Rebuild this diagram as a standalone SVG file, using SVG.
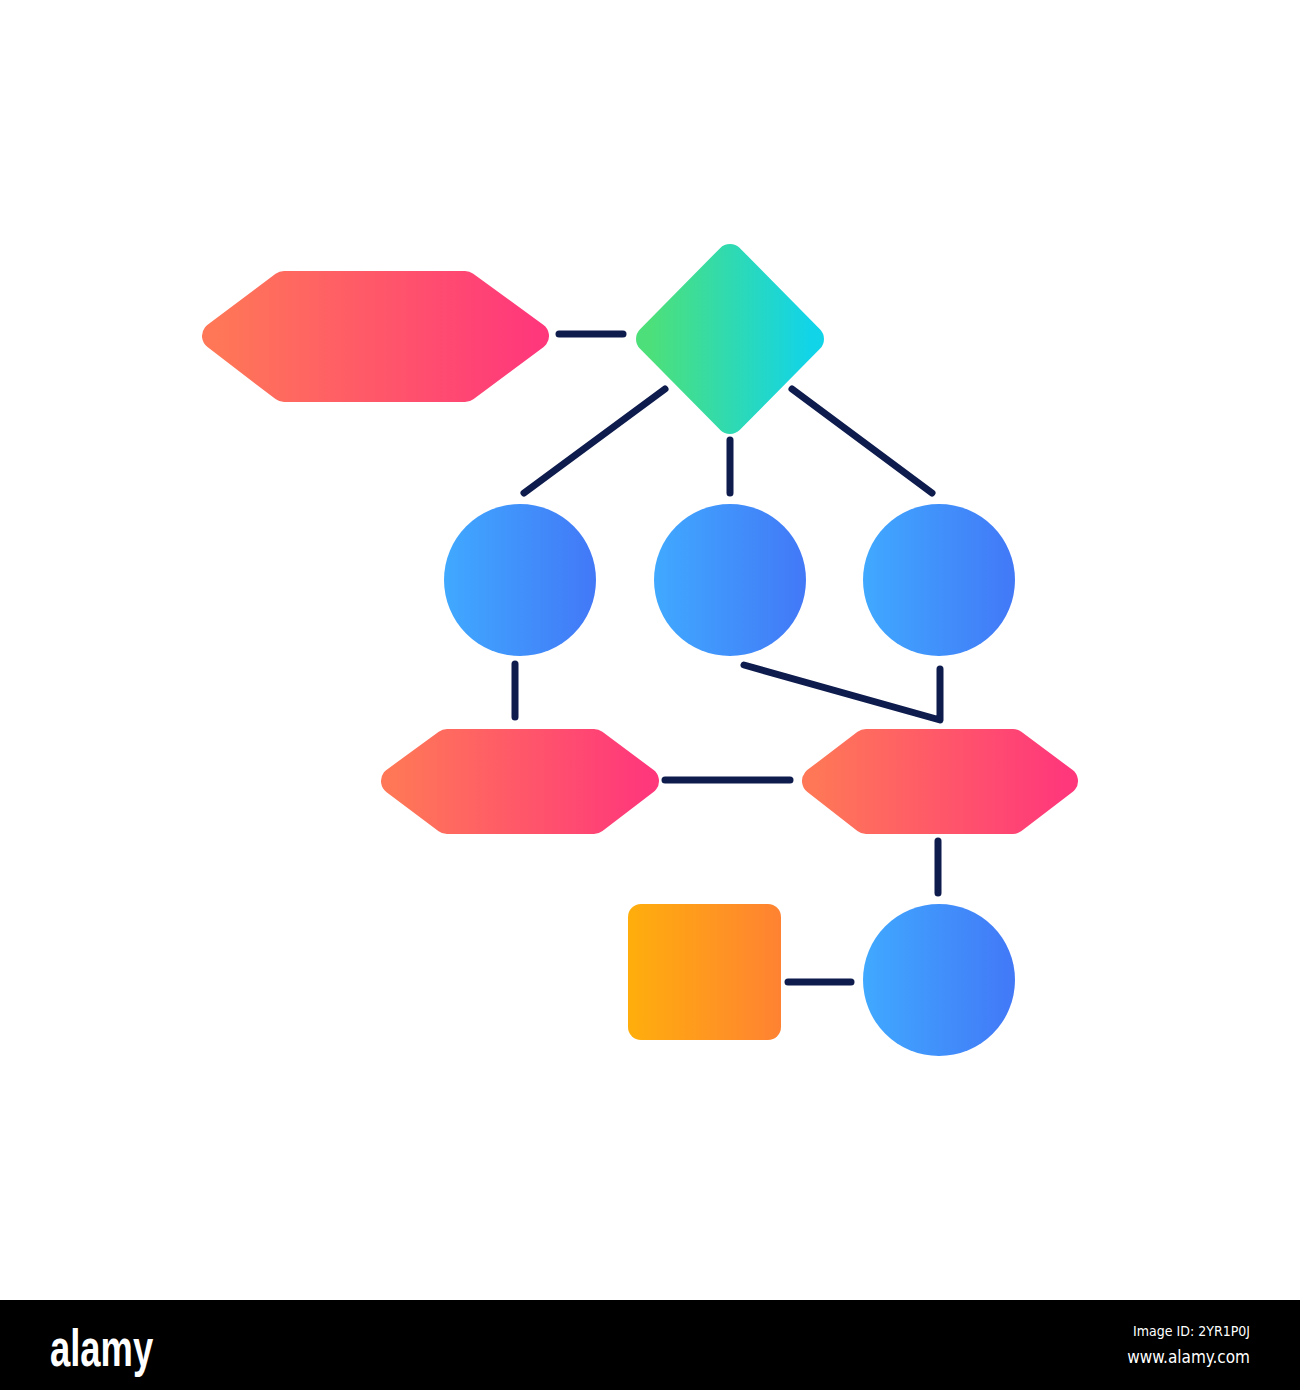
<svg xmlns="http://www.w3.org/2000/svg" width="1300" height="1390" viewBox="0 0 1300 1390">
<defs>
<linearGradient id="gHex" x1="0" y1="0" x2="1" y2="0"><stop offset="0" stop-color="#ff7757"/><stop offset="1" stop-color="#ff387b"/></linearGradient>
<linearGradient id="gDia" x1="0" y1="0" x2="1" y2="0"><stop offset="0" stop-color="#4de07a"/><stop offset="1" stop-color="#12d4e8"/></linearGradient>
<linearGradient id="gCir" x1="0" y1="0" x2="1" y2="0"><stop offset="0" stop-color="#40a9ff"/><stop offset="1" stop-color="#4278f7"/></linearGradient>
<linearGradient id="gSq" x1="0" y1="0" x2="1" y2="0"><stop offset="0" stop-color="#ffae0c"/><stop offset="1" stop-color="#ff8232"/></linearGradient>
<style>
.hex{fill:url(#gHex);stroke:url(#gHex);stroke-width:28;stroke-linejoin:round}
.dia{fill:url(#gDia);stroke:url(#gDia);stroke-width:28;stroke-linejoin:round}
.cir{fill:url(#gCir)}
.sq{fill:url(#gSq)}
.ln{fill:none;stroke:#0e1b4d;stroke-width:7;stroke-linecap:round;stroke-linejoin:round}
</style>
</defs>
<rect width="1300" height="1390" fill="#ffffff"/>
<g id="connectors">
<line class="ln" x1="559" y1="334" x2="623" y2="334"/>
<line class="ln" x1="665" y1="389" x2="524" y2="493"/>
<line class="ln" x1="730" y1="440" x2="730" y2="493"/>
<line class="ln" x1="792" y1="389" x2="932" y2="493"/>
<line class="ln" x1="515" y1="664" x2="515" y2="717"/>
<polyline class="ln" points="744,665 940,720 940,669"/>
<line class="ln" x1="665" y1="780" x2="790" y2="780"/>
<line class="ln" x1="938" y1="841" x2="938" y2="893"/>
<line class="ln" x1="788" y1="982" x2="851" y2="982"/>
</g>
<g id="hex-top"><polygon class="hex" points="216,336 284,285 465,285 535,336 465,388 284,388"/></g>
<g id="diamond"><polygon class="dia" points="730,258 810,339 730,420 650,339"/></g>
<g id="circle-left"><circle class="cir" cx="520" cy="580" r="76"/></g>
<g id="circle-mid"><circle class="cir" cx="730" cy="580" r="76"/></g>
<g id="circle-right"><circle class="cir" cx="939" cy="580" r="76"/></g>
<g id="hex-left"><polygon class="hex" points="395,781 447,743 594,743 645,781 594,820 447,820"/></g>
<g id="hex-right"><polygon class="hex" points="816,781 866,743 1013,743 1064,781 1013,820 866,820"/></g>
<g id="square"><rect class="sq" x="628" y="904" width="153" height="136" rx="13"/></g>
<g id="circle-bottom"><circle class="cir" cx="939" cy="980" r="76"/></g>
<g id="footer">
<rect x="0" y="1300" width="1300" height="90" fill="#000000"/>
<text x="50" y="1366" font-family="'Liberation Sans Narrow','Liberation Sans',sans-serif" font-size="52" font-weight="bold" fill="#ffffff" transform="translate(50 0) scale(0.7 1) translate(-50 0)">alamy</text>
<text x="1250" y="1336" font-family="'DejaVu Sans Condensed','Liberation Sans',sans-serif" font-size="14" fill="#ffffff" text-anchor="end">Image ID: 2YR1P0J</text>
<text x="1250" y="1363" font-family="'DejaVu Sans Condensed','Liberation Sans',sans-serif" font-size="17" fill="#ffffff" text-anchor="end">www.alamy.com</text>
</g>
</svg>
